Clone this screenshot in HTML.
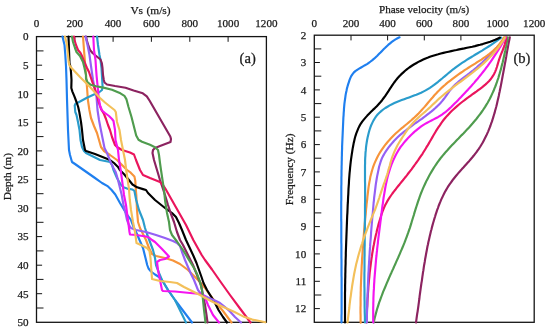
<!DOCTYPE html><html><head><meta charset="utf-8"><title>Vs profiles and dispersion curves</title>
<style>html,body{margin:0;padding:0;background:#fff;}body{width:550px;height:330px;overflow:hidden;}svg{display:block;}text{font-family:"Liberation Serif","Times New Roman",serif;fill:#1a1a1a;stroke:#1a1a1a;stroke-width:0.25px;}</style></head><body>
<svg width="550" height="330" viewBox="0 0 550 330">
<rect width="550" height="330" fill="#fff"/>
<path d="M74.8,36.6V41.8M113.1,36.6V41.8M151.4,36.6V41.8M189.8,36.6V41.8M228.1,36.6V41.8M36.5,50.9H43.5M36.5,65.2H42.1M36.5,79.5H43.5M36.5,93.7H42.1M36.5,108H43.5M36.5,122.3H42.1M36.5,136.6H43.5M36.5,150.9H42.1M36.5,165.2H43.5M36.5,179.4H42.1M36.5,193.7H43.5M36.5,208H42.1M36.5,222.3H43.5M36.5,236.6H42.1M36.5,250.9H43.5M36.5,265.2H42.1M36.5,279.4H43.5M36.5,293.7H42.1M36.5,308H43.5M351,35.2V40.4M387.6,35.2V40.4M424.3,35.2V40.4M460.9,35.2V40.4M314.3,48.9H321.3M314.3,62.5H319.9M314.3,76.2H321.3M314.3,89.9H319.9M314.3,103.6H321.3M314.3,117.2H319.9M314.3,130.9H321.3M314.3,144.6H319.9M314.3,158.2H321.3M314.3,171.9H319.9M314.3,185.6H321.3M314.3,199.3H319.9M314.3,212.9H321.3M314.3,226.6H319.9M314.3,240.3H321.3M314.3,253.9H319.9M314.3,267.6H321.3M314.3,281.3H319.9M314.3,295H321.3M314.3,308.6H319.9" stroke="#141414" stroke-width="1" fill="none"/>
<rect x="36.5" y="36.6" width="229.9" height="285.7" fill="none" stroke="#141414" stroke-width="1.3"/>
<rect x="314.3" y="35.2" width="219.9" height="287.1" fill="none" stroke="#141414" stroke-width="1.3"/>
<g fill="none" stroke-linejoin="round" stroke-linecap="round" stroke-width="2.15">
<polyline stroke="#1f7fef" points="62.5,36.5 64.5,45 65.3,55 66,66 66.5,80 67,99 68,130 69,150 70,155 72,162 75,164 85,171 95,178 102,183 108,186.4 111.6,190 115.3,194.5 120,203 126,213 131,220 134,228 137,234 139.5,240 143,248 145.5,258 147.2,265 148.5,268.5 151,271.5 155,274.5 159,277 162,280 168,290 175,300 192,322.5"/>
<polyline stroke="#f7943a" points="83,36.5 84,50 84.8,60 85.6,70 86.4,80 87.2,90 87.9,100 89.4,110 91,118 94,126 97,133 99,140 101,147 104,151 110,155 117,160 122,165 127,170 130.7,172.7 134.4,176.4 135.3,180.9 135.7,188.2 136.3,195 137,210 138,222 140,228 143,234 146,240 149,248 152,254 156,256 165,258 173,260.5 180,264 188,270 195,277 200,282 205,288 210,295 215,301.5 223,311 231.5,322.5"/>
<polyline stroke="#2a9ccc" points="97,36.5 98,45 99.5,55 100.5,60 101.5,68 102.2,80 102.6,87 102,90 99.5,92 95.6,93.8 86.9,97.8 78.2,102.5 75.5,103.8 74.7,105.5 75.3,112 76.5,115 78,122 79.5,130 80.5,140 82,147 84,151 86,153 95,157.5 100,160 110,162 112,165 113.5,170 117.1,178.2 120.7,184.5 123.5,187.3 127.1,188.6 132.5,189.5 134.4,190.9 135.3,195.5 136.2,200 139,210 143,220 145,228 147,234 150,242 153,250 155,258 156,265 159,273 162,280 168,290 175,300 186,322.5"/>
<polyline stroke="#000000" points="68.5,36.5 69,50 69.5,63 70.5,67 71,72 71.5,80 71.3,88 72.4,91.6 74.5,96.7 76.7,102.5 78.2,107 79.3,112 81,122 82,130 83,140 85,150 86,151 95,154 105,158 110,160 114,163 118,167 119.8,170 124.4,174.5 128.9,180 132.5,184.5 137.1,187.3 143,189.1 146,190 148,193 155,200 165,208 172,213 176,217 179,223 182,230 186,240 190,248.5 193.5,256 196.5,263 199,270 201.5,277 203.5,283 207,290 212,298 215,303 218.5,310 223,317 227,322.5"/>
<polyline stroke="#8c2360" points="86,36.5 87,41 88.5,46 90,50 92.5,53 95.5,55.5 98,57.5 100.5,59.5 101.8,63 102.5,68 103,75 103.8,80 104.5,82.5 107,84.5 115,86 125.5,87.7 133.6,90.5 142.8,93.3 146.8,96.3 149.5,100.5 170.3,136.5 171,139 170.5,142 160,146 155,148 153,150 152.5,153 154,160 157,170 160,180 162,186 165,195 168,205 171,214 174,222 177,232 180,240 183,245 188,255 193,265 197,275 201,285 203,295 205,305 206.5,315 207.5,322.5"/>
<polyline stroke="#9560f5" points="85.5,36.5 87.5,45 89.5,55 91,66 93,80 95,90 96.5,97 97.5,110 99,120 100.5,128 102.5,138 104.5,148 107,153 109,158 111,163 113.5,168 115.7,172 117.5,178 119.5,186 121.6,194.5 123.5,205 125.5,213 127,220 129,225 131,228 136,230 146,232 156,235 165,238 173,241 177,243 180,246 182,252 185,260 188,267 191,274 194,280 198,290 201,294 208,297.5 216,301 220,303 225,307 230,311.5 235,317 241,322.5"/>
<polyline stroke="#ea155c" points="74,36.5 74.5,40 76,45 78,50 80.5,53 82,56 83.5,60 87,68 89,72 91,78 93,84 95,89 97,96 99,103 101,109 104,114 106,119 108,125 110,130 112,137 115,145 117,147 122,150 130,152.5 134,154.5 136,160 138,165 140,170 143,175 150,178 155,180 160,182 163,185 165,188 186,225 193.3,240 201.7,255 205,260 212,269.5 220,281 230,295 240,308.5 250.5,322.5"/>
<polyline stroke="#f514f0" points="93.3,36.5 94,50 95.5,60 96,68 96.6,76 97.3,83 98,90 98.6,97 100,105.5 102,110.5 105,113 109,116 112,119 113.5,121 114.5,127 115,130 115.5,140 118,150 119,160 120.7,170 122.5,183.6 124,195 126,205 127,213 128,220 129.5,232 130,234.5 136,235 146,236.5 149,237.5 152,240 155,242 162,249 169,256.5 165,259 160,260 157,262 158,270 160,280 161,285 162,290 163,291 175,291.5 190,293 201,294 204,296 206,300 208,305 210,309 213,315 217,320 219,322.5"/>
<polyline stroke="#4f9c4e" points="72,36.5 73,42 75,48 76.5,52 80,56 82,60 83,62 84.5,68 86,75 86,78.5 87.4,82.2 90.4,84.7 96.2,86.2 103.4,87.6 112,89.8 120.4,93.3 124.4,95.8 126.5,99.4 128.5,107 131.5,117 134.8,130 136.2,135.5 138.5,139.8 142,141.8 150,144.8 155,147.2 158,150 159,155 160,163 161,170 162.5,180 164,190 165,200 167,213 169,222 170,230 172,235 177,241.5 183,250 189,260 194,268 197,274 200,282 202,290 203,300 204,310 205.5,322.5"/>
<polyline stroke="#f3c05a" points="65,36.5 67,45 68,55 68.7,62 69.5,65.5 72,68.5 80,77 90,87 100,98 105,102.5 110,106.5 114.5,110 115.8,112 117,122 119.5,130 121,140 123,150 125,160 126.2,170 127.5,179 128.9,188.2 129.8,200 131,210 133,222 135,232 136.5,243 143,246 147,248 149.5,251 150.5,258 151,265 152,279 160,281 170,282 177,283 184,287 190,290 200,295 210,300.5 220,305.5 234,311.8 243.2,316.4 252.3,319.6 265.3,322.3"/>
<polyline stroke="#8c2360" points="509.8,37.4 509.4,39.6 508.9,41.8 508.5,43.9 508.1,46.1 507.7,48.3 507.3,50.4 506.9,52.6 506.5,54.8 506.2,56.9 505.8,59.1 505.4,61.2 505,63.4 504.6,65.5 504.2,67.7 503.8,69.8 503.4,72 503,74.1 502.6,76.3 502.2,78.5 501.8,80.6 501.4,82.8 501,84.9 500.6,87.1 500.1,89.2 499.7,91.4 499.2,93.6 498.8,95.7 498.3,97.9 497.8,100 497.3,102.2 496.8,104.4 496.3,106.5 495.7,108.7 495.1,110.8 494.6,112.9 493.9,115 493.3,117.2 492.6,119.3 492,121.4 491.2,123.4 490.5,125.5 489.7,127.6 488.9,129.6 488.1,131.6 487.2,133.6 486.3,135.6 485.3,137.6 484.3,139.5 483.3,141.4 482.3,143.3 481.1,145.2 480,147 478.8,148.8 477.5,150.6 476.3,152.4 474.9,154.1 473.6,155.8 472.2,157.5 470.7,159.2 469.3,160.9 467.8,162.5 466.3,164.2 464.9,165.8 463.4,167.5 461.9,169.1 460.4,170.8 458.9,172.4 457.5,174.1 456.1,175.8 454.7,177.5 453.3,179.2 452,181 450.7,182.8 449.4,184.6 448.2,186.4 447.1,188.2 446,190.1 444.9,192 443.9,194 443,195.9 442,197.9 441.1,199.9 440.3,201.9 439.4,204 438.6,206 437.9,208.1 437.1,210.2 436.4,212.3 435.7,214.4 435.1,216.5 434.4,218.6 433.8,220.7 433.2,222.8 432.6,224.9 432,227.1 431.5,229.2 430.9,231.3 430.4,233.5 429.9,235.6 429.4,237.7 428.9,239.9 428.4,242 428,244.2 427.5,246.3 427.1,248.5 426.7,250.7 426.3,252.8 425.9,255 425.5,257.2 425.1,259.3 424.8,261.5 424.4,263.7 424,265.8 423.7,268 423.4,270.2 423,272.4 422.7,274.6 422.4,276.7 422.1,278.9 421.8,281.1 421.4,283.3 421.1,285.5 420.8,287.6 420.5,289.8 420.2,292 419.9,294.2 419.6,296.4 419.4,298.5 419.1,300.7 418.8,302.9 418.5,305.1 418.2,307.3 417.9,309.4 417.6,311.6 417.2,313.8 416.9,315.9 416.6,318.1 416.3,320.3 416,322.5"/>
<polyline stroke="#4f9c4e" points="507.8,37.4 507.4,39.7 506.9,41.9 506.5,44.1 506.1,46.4 505.6,48.6 505.2,50.9 504.7,53.1 504.2,55.4 503.7,57.7 503.2,59.9 502.7,62.2 502.1,64.4 501.5,66.7 501,68.9 500.3,71.2 499.7,73.4 499,75.6 498.4,77.8 497.6,80 496.9,82.2 496.1,84.4 495.3,86.5 494.4,88.6 493.6,90.8 492.6,92.9 491.7,94.9 490.7,97 489.7,99 488.6,101 487.5,103 486.3,104.9 485.1,106.9 483.8,108.8 482.6,110.7 481.3,112.5 479.9,114.4 478.5,116.2 477.1,118 475.7,119.8 474.2,121.5 472.7,123.3 471.2,125 469.7,126.7 468.1,128.4 466.5,130.1 465,131.8 463.4,133.5 461.7,135.1 460.1,136.8 458.5,138.5 456.9,140.1 455.3,141.8 453.7,143.4 452.1,145.1 450.5,146.8 448.9,148.5 447.4,150.2 445.8,151.9 444.3,153.7 442.9,155.4 441.4,157.2 440,159 438.6,160.9 437.3,162.7 436,164.6 434.7,166.5 433.5,168.4 432.3,170.4 431.1,172.4 430,174.3 428.9,176.3 427.8,178.4 426.7,180.4 425.7,182.5 424.8,184.5 423.8,186.6 422.9,188.7 422,190.9 421.1,193 420.3,195.1 419.5,197.3 418.8,199.5 418,201.6 417.3,203.8 416.6,206 415.9,208.2 415.2,210.4 414.5,212.6 413.9,214.8 413.2,217 412.5,219.3 411.8,221.5 411.2,223.7 410.5,225.9 409.8,228.1 409,230.3 408.3,232.4 407.5,234.6 406.7,236.8 405.9,238.9 405.1,241.1 404.3,243.2 403.4,245.3 402.5,247.5 401.6,249.6 400.7,251.7 399.8,253.8 398.9,255.9 398,258 397,260.1 396.1,262.2 395.2,264.3 394.2,266.4 393.3,268.5 392.3,270.6 391.4,272.7 390.4,274.8 389.5,276.9 388.6,279 387.7,281.1 386.8,283.2 385.9,285.3 385,287.5 384.1,289.6 383.2,291.7 382.4,293.8 381.6,296 380.8,298.1 380,300.3 379.2,302.4 378.5,304.6 377.8,306.8 377.1,309 376.5,311.2 375.9,313.4 375.3,315.7 374.7,317.9 374.2,320.2 373.7,322.4"/>
<polyline stroke="#ea155c" points="506.2,37.4 505.9,39.8 505.3,42.2 504.7,44.5 504,46.7 503.2,48.9 502.4,51 501.5,53.2 500.6,55.4 499.8,57.6 499,59.9 498.3,62.2 497.6,64.6 496.9,67 496.1,69.3 495.2,71.6 494.2,73.7 493.1,75.7 491.8,77.7 490.4,79.5 488.9,81.2 487.3,82.8 485.6,84.4 483.8,85.9 482,87.4 480.1,88.8 478.2,90.2 476.3,91.6 474.3,93 472.3,94.4 470.4,95.8 468.5,97.2 466.5,98.6 464.6,100.1 462.7,101.5 460.8,103 459,104.5 457.1,106.1 455.4,107.6 453.6,109.2 451.9,110.8 450.2,112.5 448.6,114.2 447,115.9 445.4,117.7 443.9,119.5 442.5,121.4 441.1,123.3 439.8,125.3 438.5,127.2 437.2,129.2 435.9,131.2 434.7,133.3 433.5,135.3 432.3,137.4 431.1,139.5 429.9,141.5 428.7,143.6 427.5,145.7 426.2,147.7 425,149.7 423.7,151.8 422.5,153.8 421.2,155.7 419.8,157.7 418.5,159.7 417.1,161.6 415.7,163.5 414.3,165.5 412.9,167.4 411.5,169.3 410.1,171.1 408.6,173 407.2,174.9 405.7,176.8 404.2,178.6 402.7,180.5 401.2,182.3 399.7,184.2 398.2,186 396.7,187.9 395.3,189.8 393.8,191.6 392.4,193.5 391,195.5 389.7,197.4 388.4,199.4 387.2,201.4 386.1,203.5 385,205.6 384,207.8 383.1,210 382.3,212.2 381.5,214.5 380.8,216.8 380.1,219.1 379.4,221.3 378.7,223.6 378.1,225.9 377.5,228.2 376.9,230.6 376.4,232.9 375.8,235.2 375.3,237.5 374.8,239.8 374.3,242.2 373.9,244.5 373.4,246.8 373,249.2 372.6,251.5 372.2,253.8 371.9,256.2 371.5,258.5 371.2,260.9 370.9,263.2 370.6,265.6 370.3,267.9 370,270.3 369.7,272.7 369.5,275 369.3,277.4 369,279.8 368.8,282.1 368.6,284.5 368.4,286.9 368.3,289.2 368.1,291.6 367.9,294 367.8,296.4 367.6,298.7 367.5,301.1 367.4,303.5 367.3,305.9 367.1,308.2 367,310.6 366.9,313 366.8,315.4 366.7,317.8 366.6,320.1 366.5,322.5"/>
<polyline stroke="#f514f0" points="505.6,37.5 504.4,39.6 503.3,41.6 502.1,43.7 500.9,45.8 499.6,47.8 498.4,49.9 497.1,51.9 495.8,53.9 494.5,55.9 493.2,57.9 491.9,59.9 490.5,61.9 489.1,63.8 487.7,65.8 486.3,67.7 484.9,69.6 483.4,71.5 481.9,73.4 480.4,75.3 478.9,77.1 477.4,79 475.8,80.8 474.3,82.6 472.7,84.4 471.1,86.2 469.5,87.9 467.9,89.7 466.2,91.5 464.6,93.2 462.9,95 461.3,96.7 459.6,98.4 458,100.2 456.3,101.9 454.6,103.6 452.9,105.3 451.2,107 449.4,108.6 447.6,110.2 445.8,111.8 443.9,113.2 442,114.6 440,115.9 437.9,117.2 435.8,118.3 433.6,119.4 431.5,120.5 429.3,121.6 427.2,122.7 425.1,123.9 423.1,125.1 421.2,126.4 419.3,127.8 417.4,129.3 415.6,130.8 413.8,132.4 412.1,134 410.3,135.7 408.6,137.4 407,139.2 405.4,141 403.8,142.9 402.3,144.8 400.8,146.7 399.5,148.7 398.2,150.7 397,152.8 395.9,154.8 394.8,157 393.8,159.1 392.8,161.3 391.9,163.5 391.1,165.7 390.3,168 389.6,170.2 388.9,172.5 388.2,174.8 387.6,177.1 387,179.5 386.5,181.8 386,184.1 385.5,186.5 385.1,188.9 384.7,191.2 384.3,193.6 383.9,195.9 383.5,198.3 383.2,200.7 382.9,203.1 382.5,205.5 382.2,207.8 381.9,210.2 381.6,212.6 381.3,215 381,217.4 380.7,219.8 380.4,222.1 380.1,224.5 379.8,226.9 379.5,229.3 379.2,231.7 378.9,234 378.6,236.4 378.3,238.8 378,241.2 377.8,243.6 377.5,245.9 377.2,248.3 377,250.7 376.7,253.1 376.5,255.5 376.2,257.8 376,260.2 375.8,262.6 375.6,265 375.4,267.4 375.2,269.8 375,272.1 374.8,274.5 374.6,276.9 374.4,279.3 374.3,281.7 374.1,284.1 374,286.5 373.9,288.9 373.7,291.3 373.6,293.7 373.5,296.1 373.4,298.5 373.4,300.9 373.3,303.3 373.3,305.7 373.2,308.1 373.2,310.5 373.2,312.9 373.2,315.3 373.2,317.7 373.2,320.1 373.3,322.5"/>
<polyline stroke="#9560f5" points="505,37.4 503.5,39.4 502.1,41.3 500.6,43.2 499,45.1 497.4,47 495.8,48.8 494.2,50.6 492.5,52.4 490.8,54.2 489.1,55.9 487.3,57.6 485.6,59.3 483.8,61 482,62.7 480.2,64.3 478.4,65.9 476.6,67.5 474.7,69.1 472.8,70.7 470.9,72.2 469,73.7 467,75.2 465,76.6 463,78.1 461.1,79.6 459.2,81.1 457.3,82.7 455.5,84.3 453.8,86 452.2,87.8 450.6,89.7 449.1,91.6 447.7,93.6 446.3,95.6 444.9,97.6 443.4,99.5 441.9,101.4 440.3,103.2 438.6,104.9 436.9,106.6 435.1,108.3 433.3,109.9 431.5,111.4 429.6,112.9 427.6,114.4 425.7,115.9 423.7,117.3 421.8,118.8 419.8,120.2 417.8,121.6 415.7,123 413.7,124.5 411.8,125.9 409.8,127.3 407.8,128.8 405.9,130.3 403.9,131.8 402.1,133.3 400.2,134.9 398.4,136.5 396.6,138.2 394.9,139.9 393.3,141.7 391.7,143.6 390.1,145.5 388.6,147.4 387.2,149.4 385.8,151.4 384.5,153.5 383.3,155.6 382.2,157.7 381.3,159.9 380.5,162.2 379.8,164.5 379.1,166.8 378.6,169.2 378.1,171.6 377.6,174 377.1,176.4 376.7,178.8 376.3,181.2 375.9,183.6 375.6,186 375.3,188.5 375,190.9 374.7,193.3 374.4,195.7 374.1,198.2 373.9,200.6 373.6,203 373.4,205.5 373.2,207.9 373,210.4 372.8,212.8 372.5,215.2 372.3,217.7 372.1,220.1 371.9,222.5 371.7,225 371.5,227.4 371.3,229.8 371.1,232.3 371,234.7 370.8,237.1 370.6,239.6 370.4,242 370.2,244.4 370.1,246.9 369.9,249.3 369.7,251.7 369.6,254.2 369.4,256.6 369.3,259 369.1,261.5 369,263.9 368.8,266.3 368.7,268.8 368.6,271.2 368.4,273.7 368.3,276.1 368.2,278.5 368.1,281 368,283.4 367.9,285.8 367.8,288.3 367.7,290.7 367.6,293.2 367.5,295.6 367.4,298 367.3,300.5 367.2,302.9 367.2,305.4 367.1,307.8 367,310.3 367,312.7 366.9,315.2 366.9,317.6 366.9,320.1 366.8,322.5"/>
<polyline stroke="#f7943a" points="504,37.3 502.7,39.5 501.3,41.7 499.8,43.7 498.3,45.6 496.6,47.4 494.9,49.1 493.1,50.8 491.3,52.4 489.4,53.9 487.4,55.4 485.4,56.8 483.4,58.2 481.4,59.6 479.3,60.9 477.2,62.2 475.1,63.6 473,64.9 470.9,66.2 468.8,67.5 466.7,68.9 464.6,70.2 462.6,71.6 460.5,73 458.5,74.4 456.5,75.8 454.5,77.3 452.5,78.8 450.6,80.3 448.6,81.8 446.7,83.4 444.9,85 443,86.6 441.2,88.3 439.5,90 437.7,91.7 436.1,93.5 434.4,95.3 432.8,97.2 431.2,99 429.6,100.9 428,102.8 426.4,104.7 424.8,106.6 423.2,108.4 421.5,110.3 419.9,112.1 418.2,113.9 416.4,115.6 414.6,117.3 412.8,118.9 411,120.5 409.1,122.1 407.2,123.7 405.3,125.3 403.4,126.9 401.5,128.4 399.6,130 397.7,131.7 395.9,133.3 394.1,135 392.4,136.8 390.7,138.6 389,140.4 387.4,142.3 385.8,144.2 384.3,146.1 382.9,148.1 381.5,150.2 380.2,152.2 378.9,154.3 377.7,156.5 376.6,158.7 375.6,160.9 374.6,163.1 373.7,165.4 372.9,167.7 372.2,170 371.5,172.4 370.9,174.7 370.3,177.1 369.9,179.6 369.4,182 369,184.4 368.6,186.9 368.3,189.4 368,191.8 367.7,194.3 367.4,196.8 367.2,199.3 366.9,201.8 366.6,204.2 366.4,206.7 366.1,209.2 365.9,211.7 365.7,214.1 365.4,216.6 365.2,219.1 365,221.5 364.7,224 364.5,226.4 364.3,228.9 364.1,231.3 363.9,233.8 363.7,236.3 363.5,238.7 363.3,241.2 363.1,243.6 363,246.1 362.8,248.5 362.6,251 362.5,253.4 362.3,255.9 362.1,258.3 362,260.8 361.9,263.2 361.7,265.7 361.6,268.1 361.5,270.6 361.4,273 361.3,275.5 361.2,278 361.1,280.4 361,282.9 360.9,285.3 360.8,287.8 360.8,290.3 360.7,292.7 360.7,295.2 360.6,297.7 360.6,300.2 360.6,302.6 360.6,305.1 360.5,307.6 360.5,310.1 360.5,312.6 360.6,315.1 360.6,317.6 360.6,320.1 360.7,322.6"/>
<polyline stroke="#2a9ccc" points="501.2,37.6 499.1,39.2 497.1,40.7 495,42.2 492.9,43.7 490.8,45.1 488.6,46.5 486.4,47.9 484.3,49.2 482.1,50.6 479.9,51.9 477.7,53.2 475.5,54.5 473.3,55.9 471.1,57.2 468.9,58.5 466.7,59.9 464.6,61.3 462.4,62.7 460.3,64.1 458.2,65.6 456.1,67.1 454.1,68.7 452,70.2 450,71.9 448,73.5 446.1,75.2 444.1,76.8 442.1,78.5 440.1,80.1 438.1,81.8 436.1,83.3 434.1,84.9 432,86.4 429.9,87.8 427.8,89.1 425.6,90.4 423.3,91.6 421.1,92.7 418.7,93.7 416.4,94.7 414,95.6 411.5,96.5 409.1,97.4 406.6,98.3 404.2,99.2 401.7,100.1 399.3,101 396.8,102 394.4,103.1 392,104.2 389.7,105.4 387.5,106.7 385.3,108 383.2,109.5 381.2,111.1 379.4,112.7 377.6,114.5 376.1,116.4 374.7,118.5 373.4,120.6 372.3,122.9 371.2,125.2 370.3,127.6 369.5,130 368.8,132.5 368.2,135 367.6,137.5 367.1,140 366.7,142.5 366.3,145.1 366,147.6 365.8,150.2 365.5,152.8 365.4,155.3 365.2,157.9 365.1,160.5 365.1,163.1 365,165.7 365,168.3 365,170.9 365,173.5 365,176.1 365,178.7 365,181.3 365.1,183.9 365.1,186.5 365.1,189.1 365.1,191.7 365.1,194.2 365.1,196.8 365.1,199.4 365.1,201.9 365,204.5 365,207.1 365,209.6 365,212.2 365,214.7 365,217.3 364.9,219.8 364.9,222.4 364.9,224.9 364.9,227.5 364.8,230 364.8,232.5 364.8,235.1 364.7,237.6 364.7,240.2 364.7,242.7 364.7,245.2 364.6,247.8 364.6,250.3 364.6,252.9 364.6,255.4 364.5,257.9 364.5,260.5 364.5,263 364.5,265.6 364.5,268.1 364.5,270.7 364.4,273.2 364.4,275.8 364.4,278.4 364.4,280.9 364.4,283.5 364.4,286.1 364.5,288.6 364.5,291.2 364.5,293.8 364.5,296.4 364.5,299 364.6,301.6 364.6,304.2 364.6,306.8 364.7,309.4 364.7,312 364.8,314.6 364.9,317.2 364.9,319.9 365,322.5"/>
<polyline stroke="#f3c05a" points="505,37.4 503.8,39.5 502.5,41.6 501.1,43.6 499.7,45.6 498.3,47.6 496.8,49.5 495.2,51.4 493.6,53.2 492,55 490.3,56.8 488.6,58.5 486.9,60.2 485.1,61.9 483.3,63.6 481.5,65.2 479.7,66.8 477.8,68.4 475.9,69.9 474,71.4 472.1,73 470.2,74.4 468.2,75.9 466.3,77.4 464.3,78.9 462.4,80.3 460.4,81.8 458.4,83.2 456.5,84.7 454.5,86.1 452.6,87.6 450.7,89.1 448.8,90.6 446.9,92.1 445,93.6 443.1,95.2 441.3,96.8 439.4,98.4 437.6,100 435.9,101.7 434.1,103.4 432.3,105 430.6,106.7 428.8,108.4 427,110 425.2,111.6 423.3,113.2 421.5,114.8 419.6,116.5 417.8,118.1 416,119.8 414.3,121.5 412.7,123.3 411.1,125.1 409.5,127 408.1,128.9 406.7,130.9 405.3,132.9 404,135 402.6,137 401.3,139.1 400,141.1 398.7,143.2 397.5,145.3 396.4,147.5 395.3,149.7 394.3,151.9 393.4,154.1 392.5,156.4 391.7,158.7 391,161 390.3,163.4 389.7,165.7 389,168.1 388.3,170.4 387.7,172.8 387,175.1 386.2,177.4 385.5,179.7 384.7,181.9 383.8,184.2 383,186.5 382.2,188.8 381.4,191.1 380.7,193.4 379.9,195.7 379.2,198 378.4,200.4 377.6,202.7 376.8,205 376,207.2 375.1,209.5 374.2,211.7 373.3,213.9 372.3,216.1 371.4,218.4 370.5,220.6 369.6,222.9 368.7,225.1 367.8,227.4 367,229.7 366.1,232 365.3,234.2 364.4,236.5 363.6,238.8 362.8,241.2 362.1,243.5 361.3,245.8 360.6,248.1 359.9,250.5 359.2,252.8 358.5,255.2 357.9,257.5 357.3,259.9 356.7,262.2 356.1,264.6 355.6,267 355.1,269.4 354.6,271.8 354.1,274.2 353.7,276.6 353.3,279 352.9,281.4 352.5,283.8 352.1,286.2 351.8,288.6 351.4,291 351.1,293.4 350.8,295.8 350.4,298.3 350.1,300.7 349.8,303.1 349.5,305.5 349.3,308 349,310.4 348.7,312.8 348.4,315.2 348.1,317.7 347.8,320.1 347.5,322.5"/>
<polyline stroke="#000000" points="500,37.6 497.6,38.7 495.2,39.8 492.7,40.7 490.2,41.7 487.7,42.5 485.2,43.3 482.7,44.1 480.1,44.8 477.5,45.4 474.9,46.1 472.3,46.7 469.7,47.2 467,47.8 464.4,48.4 461.8,48.9 459.1,49.4 456.5,50 453.9,50.5 451.2,51.1 448.6,51.7 446,52.3 443.4,52.9 440.8,53.5 438.2,54.3 435.7,55 433.1,55.8 430.6,56.6 428.1,57.6 425.6,58.5 423.2,59.6 420.8,60.7 418.4,61.9 416.1,63.2 413.8,64.5 411.5,66 409.3,67.5 407.1,69.1 405.1,70.8 403.1,72.6 401.1,74.4 399.3,76.3 397.5,78.3 395.8,80.4 394.2,82.5 392.7,84.7 391.2,86.9 389.7,89.2 388.3,91.4 386.8,93.6 385.3,95.9 383.7,98 382.1,100.2 380.4,102.2 378.6,104.2 376.8,106.2 374.9,108.1 372.9,109.9 371,111.8 369.1,113.7 367.3,115.6 365.5,117.6 363.8,119.6 362.2,121.6 360.7,123.8 359.4,126.1 358.3,128.4 357.3,130.8 356.3,133.3 355.5,135.8 354.8,138.3 354.2,141 353.6,143.6 353.1,146.2 352.6,148.9 352.2,151.6 351.8,154.2 351.4,156.9 351,159.6 350.7,162.2 350.4,164.9 350.1,167.6 349.9,170.2 349.6,172.9 349.4,175.5 349.2,178.2 349,180.9 348.9,183.5 348.7,186.2 348.5,188.9 348.4,191.5 348.3,194.2 348.1,196.9 348,199.5 347.9,202.2 347.7,204.9 347.6,207.5 347.5,210.2 347.4,212.9 347.2,215.6 347.1,218.2 347,220.9 346.9,223.6 346.8,226.2 346.7,228.9 346.6,231.6 346.5,234.3 346.4,236.9 346.3,239.6 346.2,242.3 346.1,245 346,247.6 345.9,250.3 345.8,253 345.8,255.6 345.7,258.3 345.6,261 345.6,263.7 345.5,266.3 345.4,269 345.4,271.7 345.3,274.4 345.3,277 345.2,279.7 345.2,282.4 345.1,285.1 345.1,287.7 345.1,290.4 345,293.1 345,295.8 345,298.4 345,301.1 345,303.8 345,306.5 345,309.1 345,311.8 345,314.5 345,317.2 345,319.8 345,322.5"/>
<polyline stroke="#1f7fef" points="399.5,37.3 397.5,38.3 395.5,39.4 393.6,40.6 391.8,41.9 390.1,43.3 388.4,44.7 386.8,46.2 385.2,47.8 383.6,49.3 382,50.9 380.5,52.5 378.9,54.1 377.3,55.7 375.7,57.2 374.1,58.7 372.4,60.1 370.6,61.5 368.8,62.8 367,64.1 365,65.2 363,66.4 361.1,67.5 359.1,68.6 357.2,69.8 355.3,71.1 353.7,72.6 352.4,74.3 351.2,76.1 350.3,78.1 349.5,80.2 348.8,82.3 348.1,84.4 347.5,86.5 346.9,88.6 346.5,90.8 346,92.9 345.6,95.1 345.3,97.3 345,99.5 344.7,101.7 344.4,103.9 344.2,106.2 344,108.4 343.9,110.6 343.7,112.8 343.6,115.1 343.4,117.3 343.3,119.6 343.2,121.8 343.1,124 343,126.3 342.9,128.5 342.8,130.7 342.7,133 342.6,135.2 342.5,137.4 342.4,139.7 342.3,141.9 342.2,144.1 342.1,146.4 342.1,148.6 342,150.8 341.9,153.1 341.9,155.3 341.8,157.5 341.8,159.8 341.7,162 341.7,164.2 341.6,166.5 341.6,168.7 341.5,170.9 341.5,173.1 341.5,175.4 341.4,177.6 341.4,179.8 341.4,182 341.4,184.3 341.3,186.5 341.3,188.7 341.3,191 341.3,193.2 341.3,195.4 341.3,197.6 341.3,199.9 341.2,202.1 341.2,204.3 341.2,206.5 341.2,208.8 341.2,211 341.2,213.2 341.2,215.4 341.2,217.7 341.2,219.9 341.3,222.1 341.3,224.3 341.3,226.6 341.3,228.8 341.3,231 341.3,233.3 341.3,235.5 341.3,237.7 341.3,239.9 341.3,242.2 341.4,244.4 341.4,246.6 341.4,248.8 341.4,251.1 341.4,253.3 341.4,255.5 341.4,257.8 341.5,260 341.5,262.2 341.5,264.4 341.5,266.7 341.5,268.9 341.5,271.1 341.5,273.4 341.5,275.6 341.6,277.8 341.6,280 341.6,282.3 341.6,284.5 341.6,286.7 341.6,289 341.6,291.2 341.6,293.4 341.6,295.7 341.6,297.9 341.6,300.1 341.6,302.4 341.6,304.6 341.6,306.8 341.6,309.1 341.6,311.3 341.6,313.6 341.5,315.8 341.5,318 341.5,320.3 341.5,322.5"/>
</g>
<g font-size="11.1" text-anchor="middle">
<text x="36.5" y="27.4">0</text>
<text x="74.8" y="27.4">200</text>
<text x="113.1" y="27.4">400</text>
<text x="151.4" y="27.4">600</text>
<text x="189.8" y="27.4">800</text>
<text x="228.1" y="27.4">1000</text>
<text x="266.4" y="27.4">1200</text>
<text x="314.3" y="27.4">0</text>
<text x="351" y="27.4">200</text>
<text x="387.6" y="27.4">400</text>
<text x="424.3" y="27.4">600</text>
<text x="460.9" y="27.4">800</text>
<text x="497.6" y="27.4">1000</text>
<text x="534.2" y="27.4">1200</text>
</g><g font-size="11.1" text-anchor="end">
<text x="28.6" y="40.4">0</text>
<text x="28.6" y="69">5</text>
<text x="28.6" y="97.5">10</text>
<text x="28.6" y="126.1">15</text>
<text x="28.6" y="154.7">20</text>
<text x="28.6" y="183.2">25</text>
<text x="28.6" y="211.8">30</text>
<text x="28.6" y="240.4">35</text>
<text x="28.6" y="269">40</text>
<text x="28.6" y="297.5">45</text>
<text x="28.6" y="326.1">50</text>
<text x="306.2" y="39">2</text>
<text x="306.2" y="66.3">3</text>
<text x="306.2" y="93.7">4</text>
<text x="306.2" y="121">5</text>
<text x="306.2" y="148.4">6</text>
<text x="306.2" y="175.7">7</text>
<text x="306.2" y="203.1">8</text>
<text x="306.2" y="230.4">9</text>
<text x="306.2" y="257.7">10</text>
<text x="306.2" y="285.1">11</text>
<text x="306.2" y="312.4">12</text>
</g>
<text font-size="11.4" x="130.4" y="13.9">Vs</text><text font-size="11.4" x="146.5" y="13.9">(m/s)</text>
<text font-size="11.4" text-anchor="middle" transform="translate(10.9,176.6) rotate(-90)">Depth (m)</text>
<text font-size="14.6" x="239.6" y="62.6">(a)</text>
<text font-size="11.05" x="379" y="12.6">Phase velocity (m/s)</text>
<text font-size="11.4" text-anchor="middle" transform="translate(293.3,169.3) rotate(-90)">Frequency (Hz)</text>
<text font-size="14.6" x="513.4" y="62.6">(b)</text>
</svg></body></html>
